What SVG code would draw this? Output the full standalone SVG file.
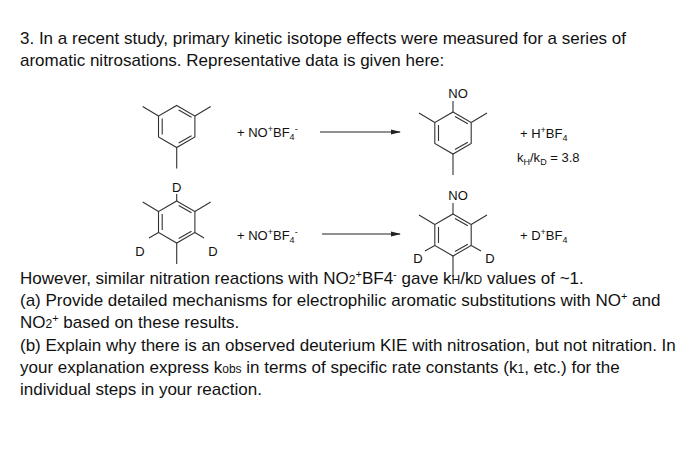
<svg xmlns="http://www.w3.org/2000/svg" xmlns:xlink="http://www.w3.org/1999/xlink" width="700" height="457" viewBox="0 0 700 457">
<style>
text{font-family:"Liberation Sans",Arial,sans-serif;fill:#111}
.p{font-size:17px}
.s{font-size:13px}
.b{stroke:#333;stroke-width:1.1;fill:none}
</style>
<defs>
<g id="ring" class="b">
<path d="M0,-21 L18.2,-10.5 L18.2,10.5 L0,21 L-18.2,10.5 L-18.2,-10.5 Z"/>
<path d="M-14.5,-8 L-14.5,8 M2,-16.5 L14.8,-9.2 M14.8,9.2 L2,16.5"/>
<path d="M-18.2,-10.5 L-34,-20 M18.2,-10.5 L34,-20 M0,21 L0,42"/>
</g>
<marker id="ar" markerWidth="10" markerHeight="6" refX="9" refY="3" orient="auto" markerUnits="userSpaceOnUse"><path d="M0,0.5 L10,3 L0,5.5Z" fill="#222"/></marker>
</defs>
<rect width="700" height="457" fill="#fff"/>
<text class="p" x="20" y="44">3. In a recent study, primary kinetic isotope effects were measured for a series of</text>
<text class="p" x="20" y="66">aromatic nitrosations. Representative data is given here:</text>
<g id="mesitylene"><use xlink:href="#ring" x="176.7" y="126.5"/></g>
<g id="product1"><use xlink:href="#ring" x="453" y="133"/><path class="b" d="M453,112 L453,101"/><text class="s" x="458" y="98" text-anchor="middle">NO</text></g>
<g id="mesityleneD"><use xlink:href="#ring" x="176.7" y="222"/><path class="b" d="M176.7,201 L176.7,194 M158.5,232.5 L149,238 M194.9,232.5 L204,238"/>
<text class="s" x="176.7" y="192" text-anchor="middle">D</text><text class="s" x="140" y="256" text-anchor="middle">D</text><text class="s" x="213" y="256" text-anchor="middle">D</text></g>
<g id="product2"><use xlink:href="#ring" x="453" y="235"/><path class="b" d="M453,214 L453,203"/><text class="s" x="458" y="200" text-anchor="middle">NO</text>
<path class="b" d="M434.8,245.5 L425,251 M471.2,245.5 L481,251"/>
<text class="s" x="418" y="263" text-anchor="middle">D</text><text class="s" x="490" y="263" text-anchor="middle">D</text></g>
<g id="reagents">
<text class="s" x="237" y="137">+ NO<tspan dy="-5" font-size="9">+</tspan><tspan dy="5">BF</tspan><tspan dy="3" font-size="9">4</tspan><tspan dy="-8" font-size="9">-</tspan></text>
<text class="s" x="237" y="240">+ NO<tspan dy="-5" font-size="9">+</tspan><tspan dy="5">BF</tspan><tspan dy="3" font-size="9">4</tspan><tspan dy="-8" font-size="9">-</tspan></text>
<text class="s" x="520" y="138">+ H<tspan dy="-5" font-size="9">+</tspan><tspan dy="5">BF</tspan><tspan dy="3" font-size="9">4</tspan></text>
<text class="s" x="517" y="162">k<tspan dy="3" font-size="9">H</tspan><tspan dy="-3">/k</tspan><tspan dy="3" font-size="9">D</tspan><tspan dy="-3"> = 3.8</tspan></text>
<text class="s" x="520" y="240">+ D<tspan dy="-5" font-size="9">+</tspan><tspan dy="5">BF</tspan><tspan dy="3" font-size="9">4</tspan></text>
</g>
<g id="connectors" stroke="#222" stroke-width="1.1">
<line x1="320" y1="132" x2="400" y2="132" marker-end="url(#ar)"/>
<line x1="322" y1="234" x2="400" y2="234" marker-end="url(#ar)"/>
</g>
<text class="p" x="20" y="284">However, similar nitration reactions with NO<tspan font-size="12" dy="0">2</tspan><tspan font-size="11" dy="-6">+</tspan><tspan dy="6">BF4</tspan><tspan font-size="11" dy="-6">-</tspan><tspan dy="6"> gave k</tspan><tspan font-size="12">H</tspan>/k<tspan font-size="12">D</tspan> values of ~1.</text>
<text class="p" x="20" y="306">(a) Provide detailed mechanisms for electrophilic aromatic substitutions with NO<tspan font-size="11" dy="-6">+</tspan><tspan dy="6"> and</tspan></text>
<text class="p" x="20" y="328">NO<tspan font-size="12">2</tspan><tspan font-size="11" dy="-6">+</tspan><tspan dy="6"> based on these results.</tspan></text>
<text class="p" x="20" y="351">(b) Explain why there is an observed deuterium KIE with nitrosation, but not nitration. In</text>
<text class="p" x="20" y="373">your explanation express k<tspan font-size="12">obs</tspan> in terms of specific rate constants (k<tspan font-size="12">1</tspan>, etc.) for the</text>
<text class="p" x="20" y="395">individual steps in your reaction.</text>
</svg>
